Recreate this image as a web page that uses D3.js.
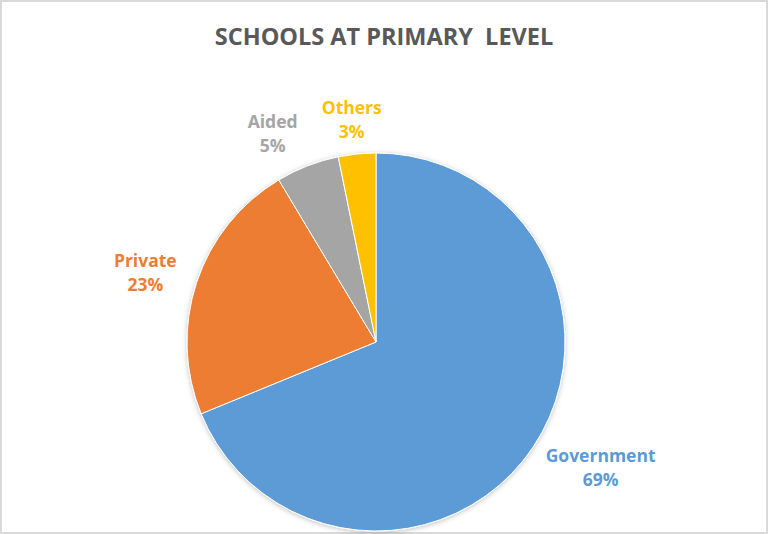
<!DOCTYPE html>
<head>
<meta charset="utf-8">
<script src="https://d3js.org/d3.v7.min.js"></script>
<style>
  body { margin: 0; background: #fff; }
  text { font-family: "Open Sans", Lato, sans-serif; font-weight: 700; }
</style>
</head>
<body>
<svg id="chart" width="768" height="534"></svg>
<script>
// values
var categories = ["Government", "Private", "Aided", "Others"];
var shares = [68.8, 22.6, 5.4, 3.2];
var colors = ["#5B9BD5", "#ED7D31", "#A5A5A5", "#FFC000"];

var width = 768, height = 534;
var cx = 376, cy = 342, radius = 189;

var svg = d3.select("#chart");

// outer frame
svg.append("rect")
  .attr("x", 1).attr("y", 1)
  .attr("width", width - 2).attr("height", height - 2)
  .attr("fill", "#fff")
  .attr("stroke", "#d9d9d9")
  .attr("stroke-width", 2);

svg.append("text")
  .attr("x", width / 2)
  .attr("y", 45)
  .attr("text-anchor", "middle")
  .attr("font-size", "23.5px")
  .attr("fill", "#595959")
  .style("white-space", "pre")
  .text("SCHOOLS AT PRIMARY  LEVEL");

var defs = svg.append("defs");
defs.append("filter").attr("id", "shadow")
  .attr("x", "-10%").attr("y", "-10%").attr("width", "120%").attr("height", "120%")
  .append("feDropShadow")
  .attr("dx", 0).attr("dy", 1).attr("stdDeviation", 2.5)
  .attr("flood-color", "#000").attr("flood-opacity", 0.25);

var data = categories.map(function(c, i) { return {name: c, value: shares[i], color: colors[i]}; });

var pie = d3.pie().sort(null).value(function(d) { return d.value; });
var arc = d3.arc().innerRadius(0).outerRadius(radius);
var arcs = pie(data);

var g = svg.append("g").attr("transform", "translate(" + cx + "," + cy + ")");

g.append("g").attr("filter", "url(#shadow)")
  .selectAll("path")
  .data(arcs)
  .enter().append("path")
  .attr("d", arc)
  .attr("fill", function(d) { return d.data.color; })
  .attr("stroke", "#fff")
  .attr("stroke-width", 1);

// outside-end labels
var lineH = 24;
var boxes = [];
arcs.forEach(function(d) {
  var lbl = g.append("text")
    .attr("text-anchor", "middle")
    .attr("font-size", "17.5px")
    .attr("fill", d.data.color);
  lbl.append("tspan").attr("x", 0).attr("dy", 0).text(d.data.name);
  lbl.append("tspan").attr("x", 0).attr("dy", lineH).text(Math.round(d.data.value) + "%");

  var bb = lbl.node().getBBox();
  var a = (d.startAngle + d.endAngle) / 2;
  var s = Math.sin(a), c = Math.cos(a);
  var p = d3.arc().innerRadius(radius + 18).outerRadius(radius + 18).centroid(d);
  var px = p[0] + s * bb.width / 2 * 1.15;
  var py = p[1] - c * bb.height / 2 * 0.7;
  boxes.push({el: lbl, bb: bb, x: px, y: py});
});

// push apart labels that sit too close side by side
for (var i = boxes.length - 2; i >= 0; i--) {
  var A = boxes[i], B = boxes[i + 1];
  var vOverlap = Math.abs(A.y - B.y) < (A.bb.height + B.bb.height) / 2;
  var gap = (B.x - B.bb.width / 2) - (A.x + A.bb.width / 2);
  if (vOverlap && A.x < B.x && gap < 24) A.x -= (24 - gap);
}

boxes.forEach(function(b) {
  b.el.attr("transform", "translate(" + b.x + "," + (b.y - (b.bb.y + b.bb.height / 2)) + ")");
});
</script>
</body>
</html>
